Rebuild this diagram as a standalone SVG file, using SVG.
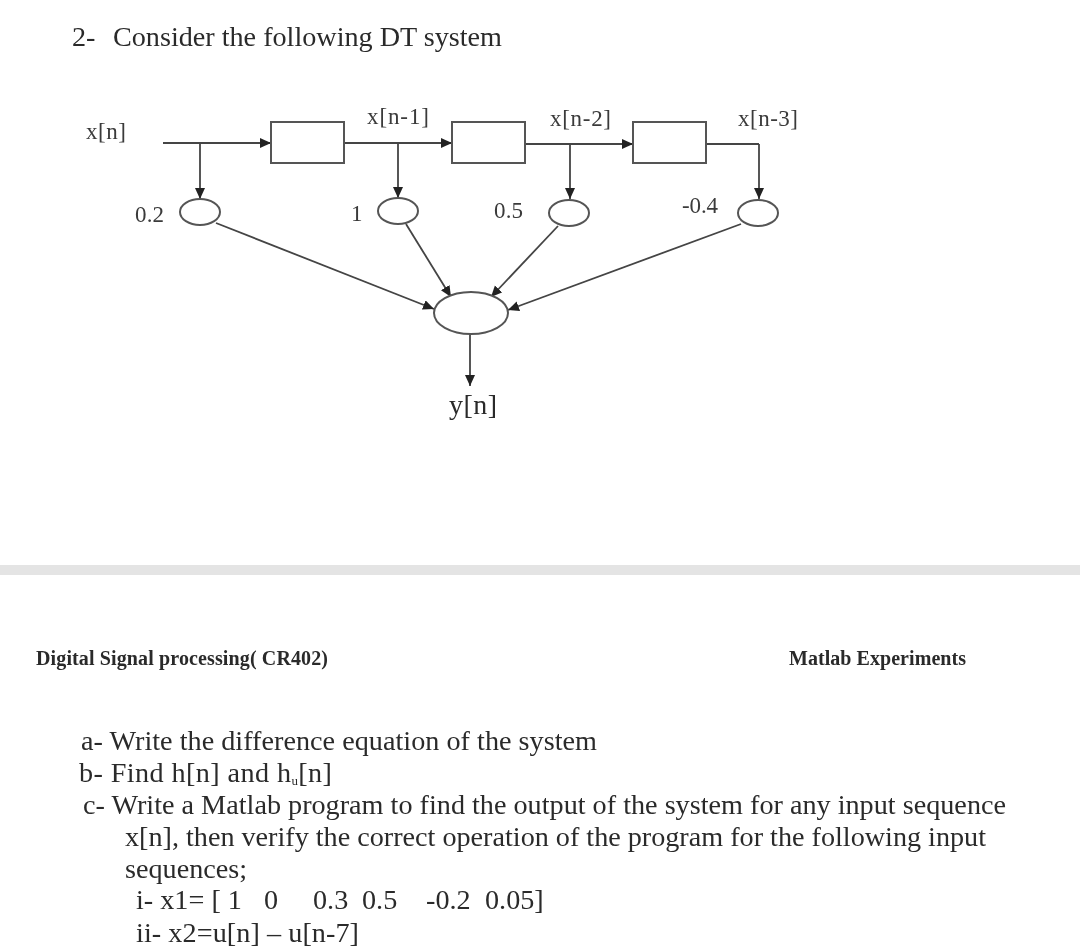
<svg xmlns="http://www.w3.org/2000/svg" width="1080" height="950" viewBox="0 0 1080 950">
<style>
text{font-family:"Liberation Serif","Times New Roman",serif;fill:#2b2b2b}
.lbl{font-size:23px;fill:#3a3a3a}
.body{font-size:28.2px}
.hdr{font-size:20px;font-weight:bold}
.n{fill:#fff;stroke:#555;stroke-width:2}
.c{fill:none;stroke:#444;stroke-width:1.8}
.a{marker-end:url(#ah)}
</style>
<defs>
<marker id="ah" markerUnits="userSpaceOnUse" markerWidth="12" markerHeight="12" refX="11" refY="5" orient="auto"><path d="M0 0L11 5L0 10Z" fill="#222"/></marker>
<filter id="soft" x="0" y="0" width="100%" height="100%"><feGaussianBlur stdDeviation="0.55"/></filter>
</defs>
<rect width="1080" height="950" fill="#fff"/>
<g filter="url(#soft)">
<rect x="0" y="565" width="1080" height="10" fill="#e4e4e4"/>
<text class="body" x="72" y="46">2-</text>
<text class="body" x="113" y="46" textLength="389">Consider the following DT system</text>
<g id="connectors">
<path class="c a" d="M163 143H271"/>
<path class="c a" d="M200 143V199"/>
<path class="c a" d="M344 143H452"/>
<path class="c a" d="M398 143V198"/>
<path class="c a" d="M525 144H633"/>
<path class="c a" d="M570 144V199"/>
<path class="c" d="M706 144H759"/>
<path class="c a" d="M759 144V199"/>
<path class="c a" d="M216 223L434 309"/>
<path class="c a" d="M406 224L451 297"/>
<path class="c a" d="M558 226L491 297"/>
<path class="c a" d="M741 224L508 310"/>
<path class="c a" d="M470 334V386"/>
</g>
<g id="delay1"><rect class="n" x="271" y="122" width="73" height="41"/></g>
<g id="delay2"><rect class="n" x="452" y="122" width="73" height="41"/></g>
<g id="delay3"><rect class="n" x="633" y="122" width="73" height="41"/></g>
<g id="gain1"><ellipse class="n" cx="200" cy="212" rx="20" ry="13"/></g>
<g id="gain2"><ellipse class="n" cx="398" cy="211" rx="20" ry="13"/></g>
<g id="gain3"><ellipse class="n" cx="569" cy="213" rx="20" ry="13"/></g>
<g id="gain4"><ellipse class="n" cx="758" cy="213" rx="20" ry="13"/></g>
<g id="sum"><ellipse class="n" cx="471" cy="313" rx="37" ry="21"/></g>
<g id="labels">
<text class="lbl" x="86" y="139" textLength="40">x[n]</text>
<text class="lbl" x="367" y="124" textLength="62">x[n-1]</text>
<text class="lbl" x="550" y="126" textLength="61">x[n-2]</text>
<text class="lbl" x="738" y="126" textLength="60">x[n-3]</text>
<text class="lbl" x="135" y="222" textLength="29">0.2</text>
<text class="lbl" x="351" y="221">1</text>
<text class="lbl" x="494" y="218" textLength="29">0.5</text>
<text class="lbl" x="682" y="213" textLength="36">-0.4</text>
<text x="449" y="414" style="font-size:28px" textLength="48">y[n]</text>
</g>
<text class="hdr" x="36" y="665" textLength="292">Digital Signal processing( CR402)</text>
<text class="hdr" x="789" y="665" textLength="177">Matlab Experiments</text>
<text class="body" x="81" y="750" textLength="516">a- Write the difference equation of the system</text>
<text class="body" x="79" y="782" textLength="253">b- Find h[n] and h<tspan font-size="13" dy="3">u</tspan><tspan dy="-3">[n]</tspan></text>
<text class="body" x="83" y="814" textLength="923">c- Write a Matlab program to find the output of the system for any input sequence</text>
<text class="body" x="125" y="846" textLength="861">x[n], then verify the correct operation of the program for the following input</text>
<text class="body" x="125" y="878">sequences;</text>
<text class="body" x="136" y="909">i- x1= [ 1</text>
<text class="body" x="264" y="909">0</text>
<text class="body" x="313" y="909">0.3</text>
<text class="body" x="362" y="909">0.5</text>
<text class="body" x="426" y="909">-0.2</text>
<text class="body" x="485" y="909">0.05]</text>
<text class="body" x="136" y="942" textLength="223">ii- x2=u[n] – u[n-7]</text>
</g>
</svg>
